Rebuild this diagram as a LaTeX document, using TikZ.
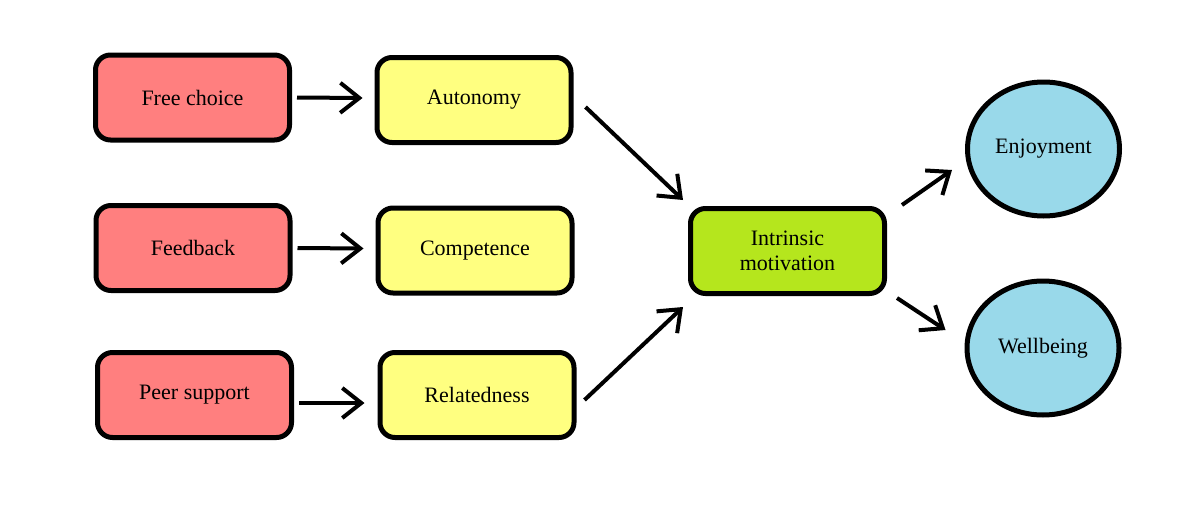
\documentclass[tikz,border=0pt]{standalone}
\usepackage{fontspec}
\setmainfont{Liberation Serif}
\usetikzlibrary{arrows.meta,positioning,shapes.geometric}
\definecolor{sdtRed}{HTML}{FF7F7F}
\definecolor{sdtYellow}{HTML}{FFFF80}
\definecolor{sdtGreen}{HTML}{B5E61D}
\definecolor{sdtBlue}{HTML}{99D9EA}
\tikzset{
  sdtBox/.style={
    draw=black,
    line width=5pt,
    rounded corners=15pt,
    minimum width=194pt,
    minimum height=85pt,
    align=center,
    font=\fontsize{22}{25}\selectfont,
    inner sep=2pt
  },
  factorBox/.style={sdtBox, fill=sdtRed},
  needBox/.style={sdtBox, fill=sdtYellow},
  motiveBox/.style={sdtBox, fill=sdtGreen},
  outcomeNode/.style={
    ellipse,
    draw=black,
    line width=5pt,
    fill=sdtBlue,
    minimum width=152pt,
    minimum height=134pt,
    font=\fontsize{22}{25}\selectfont,
    inner sep=0pt
  },
  sdtArrow/.style={-{Straight Barb[length=19pt,width=30pt]}, line width=4pt}
}
\begin{document}
\begin{tikzpicture}[x=1pt,y=-1pt]
  \useasboundingbox (0,0) rectangle (1200,506);

  \node[factorBox] (free) at (192.5,97.5) {Free choice};
  \node[factorBox] (feed) at (193,248) {Feedback};
  \node[factorBox] (peer) at (194.5,395) {Peer support};

  \node[needBox] (aut) at (474,100) {Autonomy};
  \node[needBox] (comp) at (475,250.5) {Competence};
  \node[needBox] (rel) at (477,395) {Relatedness};

  \node[motiveBox] (im) at (787.5,251) {Intrinsic\\motivation};

  \node[outcomeNode] (enj) at (1043.5,149) {Enjoyment};
  \node[outcomeNode] (well) at (1043,348) {Wellbeing};

  \draw[sdtArrow] ([xshift=5pt]free.east) -- ([xshift=-12pt,yshift=2pt]aut.west);
  \draw[sdtArrow] ([xshift=5pt]feed.east) -- ([xshift=-12pt,yshift=2pt]comp.west);
  \draw[sdtArrow] ([xshift=5pt,yshift=-8pt]peer.east) -- ([xshift=-13pt,yshift=-8pt]rel.west);

  \draw[sdtArrow] ([xshift=12pt,yshift=-7pt]aut.east) -- ([xshift=-5pt,yshift=6pt]im.north west);
  \draw[sdtArrow] ([xshift=8pt,yshift=-5pt]rel.east) -- ([xshift=-5pt,yshift=-11pt]im.south west);

  \draw[sdtArrow] ([xshift=15pt,yshift=1pt]im.north east) -- ([xshift=-13pt,yshift=-21pt]enj.west);
  \draw[sdtArrow] ([xshift=10pt,yshift=-2pt]im.south east) -- ([xshift=-19pt,yshift=18pt]well.west);
\end{tikzpicture}
\end{document}
